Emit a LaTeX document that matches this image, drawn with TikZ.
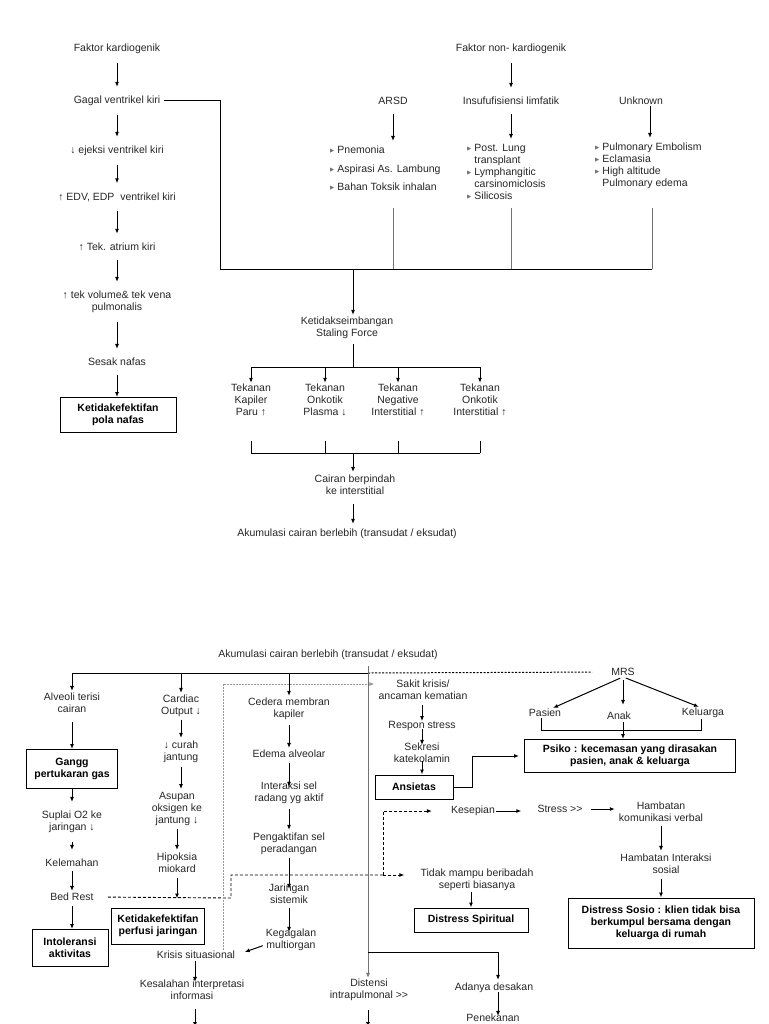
\documentclass[tikz,border=0pt]{standalone}
\usepackage{fontspec}
\setmainfont{Liberation Sans}
\newfontfamily\dejavu{DejaVu Sans}
\usetikzlibrary{arrows.meta,positioning,calc}
\newcommand{\fsz}{\fontsize{10.5}{12}\selectfont}
\newcommand{\bul}{\raisebox{1pt}{\color{black!55}\dejavu\fontsize{5.5}{5.5}\selectfont ▶}}

\begin{document}
\begin{tikzpicture}[x=1pt,y=-1pt,
    lbl/.style={align=center, text=black!85, font=\fsz, inner sep=1pt},
    lst/.style={lbl, anchor=north west, align=left},
    box/.style={draw, line width=1pt, align=center, font=\fsz\bfseries, inner sep=2pt},
    arr/.style={-{Latex[length=5pt,width=4pt]}, line width=1pt, shorten <=8pt, shorten >=8pt},
    ln/.style={line width=1pt},
    gln/.style={line width=1pt, black!55},
    dln/.style={line width=0.9pt, dash pattern=on 3pt off 2pt},
    gdot/.style={line width=0.9pt, black!40, dash pattern=on 1.5pt off 1.5pt}]
    \useasboundingbox (0,0) rectangle (768,1024);

    % Faktor kardiogenik
    \node[lbl] (fk) at (117,49) {Faktor kardiogenik};
    \node[lbl] (gagal) at (117,101) {Gagal ventrikel kiri};
    \node[lbl] (ejeksi) at (117,151) {↓ ejeksi ventrikel kiri};
    \node[lbl] (edv) at (117,197) {↑ EDV, EDP\ \ ventrikel kiri};
    \node[lbl] (atrium) at (117,247) {↑ Tek. atrium kiri};
    \node[lbl] (vena) at (117,302) {↑ tek volume\& tek vena\\pulmonalis};
    \node[lbl] (sesak) at (117,362) {Sesak nafas};
    \node[box, minimum width=116pt, minimum height=35pt] (pola) at (118,415) {Ketidakefektifan\\pola nafas};
    \draw[arr] (fk) -- (gagal);
    \draw[arr] (gagal) -- (ejeksi);
    \draw[arr] (ejeksi) -- (edv);
    \draw[arr] (edv) -- (atrium);
    \draw[arr] (atrium) -- (vena);
    \draw[arr] (vena) -- (sesak);
    \draw[arr, shorten >=0pt] (sesak) -- (sesak |- pola.north);

    % Faktor non-kardiogenik
    \node[lbl] (fnk) at (511,49) {Faktor non- kardiogenik};
    \node[lbl] (arsd) at (393,101) {ARSD};
    \node[lbl] (insuf) at (511,101) {Insufufisiensi limfatik};
    \node[lbl] (unk) at (641,101) {Unknown};
    \node[lst] (lsA) at (329,144) {\begin{tabular}{@{}l@{\hspace{3pt}}l@{}}
        \bul & Pnemonia\\[6.5pt] \bul & Aspirasi As. Lambung\\[6.5pt] \bul & Bahan Toksik inhalan
    \end{tabular}};
    \node[lst] (lsB) at (466,142) {\begin{tabular}{@{}l@{\hspace{3pt}}l@{}}
        \bul & Post. Lung\\ & transplant\\ \bul & Lymphangitic\\ & carsinomiclosis\\ \bul & Silicosis
    \end{tabular}};
    \node[lst] (lsC) at (594,141) {\begin{tabular}{@{}l@{\hspace{3pt}}l@{}}
        \bul & Pulmonary Embolism\\ \bul & Eclamasia\\ \bul & High altitude\\ & Pulmonary edema
    \end{tabular}};
    \draw[arr] (fnk) -- (insuf);
    \draw[arr, shorten >=3pt] (arsd) -- (arsd |- lsA.north);
    \draw[arr, shorten >=3pt] (insuf) -- (insuf |- lsB.north);
    \draw[arr, shorten <=0pt, shorten >=3pt] ([xshift=9pt]unk.south) -- ([xshift=9pt]unk.south |- lsC.north);

    % Pertemuan
    \coordinate (jL) at (220,269);
    \coordinate (jM) at (353,269);
    \coordinate (jR) at (652,269);
    \coordinate (eA) at (393,208);
    \coordinate (eB) at (511,208);
    \coordinate (eC) at (652,208);
    \draw[ln, shorten <=3pt] (gagal.east) -| (jL) -- (jR);
    \draw[gln] (eA) -- (eA |- jL);
    \draw[gln] (eB) -- (eB |- jL);
    \draw[gln] (eC) -- (jR);

    % Staling force
    \node[lbl] (stal) at (347,328) {Ketidakseimbangan\\Staling Force};
    \draw[arr, shorten <=0pt, shorten >=1pt] (jM) -- (jM |- stal.north);
    \coordinate (sf) at (353,367);
    \draw[ln, shorten <=4pt] (jM |- stal.south) -- (sf);
    \node[lbl] (t1) at (251,400) {Tekanan\\Kapiler\\Paru ↑};
    \node[lbl] (t2) at (325,400) {Tekanan\\Onkotik\\Plasma ↓};
    \node[lbl] (t3) at (398,400) {Tekanan\\Negative\\Interstitial ↑};
    \node[lbl] (t4) at (480,400) {Tekanan\\Onkotik\\Interstitial ↑};
    \draw[ln] (t1 |- sf) -- (t4 |- sf);
    \foreach \t in {t1,t2,t3,t4}
        \draw[arr, shorten <=0pt, shorten >=0pt] (\t |- sf) -- (\t.north);
    \coordinate (bj) at (353,453);
    \foreach \t in {t1,t2,t3,t4}
        \draw[ln] (\t.south) ++(0,24) -- (\t |- bj);
    \draw[ln] (t1 |- bj) -- (t4 |- bj);
    \node[lbl] (cair) at (355,485) {Cairan berpindah\\ke interstitial};
    \draw[arr, shorten <=0pt, shorten >=2pt] (bj) -- (bj |- cair.north);
    \node[lbl] (akum1) at (347,534) {Akumulasi cairan berlebih (transudat / eksudat)};
    \draw[arr, shorten >=4pt] (cair.south -| bj) -- (akum1.north -| bj);

    % Bagian bawah
    \node[lbl] (akum2) at (328,655) {Akumulasi cairan berlebih (transudat / eksudat)};
    \node[lbl] (mrs) at (623,672) {MRS};
    \coordinate (hL) at (72,673);
    \coordinate (hM) at (368,673);
    \coordinate (vT) at (368,666);
    \draw[ln] (hL) -- (hM);
    \draw[ln, dash pattern=on 2pt off 1.5pt, shorten >=18pt] (hM) -- (mrs.west);

    % Pernafasan
    \node[lbl] (alv) at (72,703) {Alveoli terisi\\cairan};
    \node[box, minimum width=91pt, minimum height=39pt] (gangg) at (72,769) {Gangg\\pertukaran gas};
    \node[lbl] (suplai) at (72,822) {Suplai O2 ke\\jaringan ↓};
    \node[lbl] (lemah) at (72,863) {Kelemahan};
    \node[lbl] (bed) at (72,897) {Bed Rest};
    \node[box, minimum width=76pt, minimum height=37pt] (intol) at (70,948) {Intoleransi\\aktivitas};
    \draw[arr, shorten <=0pt, shorten >=1pt] (hL) -- (alv.north);
    \draw[arr, shorten >=0pt] (alv) -- (alv |- gangg.north);
    \draw[arr, shorten <=0pt] (gangg.south) -- (suplai);
    \draw[arr] (suplai) -- (lemah);
    \draw[arr, shorten <=3pt, shorten >=1pt] (lemah) -- (bed);
    \draw[arr, shorten <=4pt, shorten >=0pt] (bed) -- (bed |- intol.north);

    % Kardiak
    \node[lbl] (card) at (181,706) {Cardiac\\Output ↓};
    \node[lbl] (curah) at (181,752) {↓ curah\\jantung};
    \node[lbl] (asup) at (177,809) {Asupan\\oksigen ke\\jantung ↓};
    \node[lbl] (hipo) at (177,863) {Hipoksia\\miokard};
    \node[box, minimum width=93pt, minimum height=36pt] (perf) at (158,926) {Ketidakefektifan\\perfusi jaringan};
    \draw[arr, shorten <=0pt, shorten >=1pt] (card |- hL) -- (card.north);
    \draw[arr, shorten <=2pt, shorten >=2pt] (card) -- (curah);
    \draw[arr, shorten <=3pt, shorten >=2pt] (curah) -- (curah |- asup.north);
    \draw[arr, shorten <=2pt, shorten >=2pt] (asup) -- (hipo);
    \draw[arr, shorten <=4pt, shorten >=9pt] (hipo) -- (hipo |- perf.north);

    % Kapiler
    \node[lbl] (ced) at (289,709) {Cedera membran\\kapiler};
    \node[lbl] (edema) at (289,754) {Edema alveolar};
    \node[lbl] (inter) at (289,793) {Interaksi sel\\radang yg aktif};
    \node[lbl] (peng) at (289,844) {Pengaktifan sel\\peradangan};
    \node[lbl] (jar) at (289,894) {Jaringan\\sistemik};
    \node[lbl] (mult) at (291,940) {Kegagalan\\multiorgan};
    \node[lbl] (krisis) at (196,955) {Krisis situasional};
    \node[lbl] (salah) at (192,990) {Kesalahan interpretasi\\informasi};
    \coordinate (sB) at (195,1027);
    \draw[arr, shorten <=0pt, shorten >=1pt] (ced |- hL) -- (ced.north);
    \draw[arr, shorten <=4pt, shorten >=1pt] (ced) -- (edema);
    \draw[arr, shorten <=4pt, shorten >=-6pt] (edema) -- (inter);
    \draw[arr, shorten <=4pt, shorten >=2pt] (inter) -- (peng);
    \draw[arr, shorten <=2pt, shorten >=-6pt] (peng) -- (jar);
    \draw[arr, shorten <=3pt, shorten >=-4pt] (jar) -- (jar |- mult.north);
    \draw[arr, shorten <=2pt, shorten >=9pt] ([yshift=-5pt]mult.west) -- (krisis.east);
    \draw[arr, shorten <=1pt, shorten >=-3pt] (krisis.south -| sB) -- (sB |- salah.north);
    \draw[arr, shorten >=0pt] (salah.south -| sB) -- (sB);

    % Psikososial
    \node[lbl] (sakit) at (423,690) {Sakit krisis/\\ancaman kematian};
    \node[lbl] (respon) at (422,726) {Respon stress};
    \node[lbl] (sekresi) at (422,753) {Sekresi\\katekolamin};
    \node[box, minimum width=78pt, minimum height=24pt] (ansi) at (414,787) {Ansietas};
    \draw[arr, shorten <=4pt, shorten >=-1pt] (sakit.south -| respon) -- (respon);
    \draw[arr, shorten <=-3pt, shorten >=-3pt] (respon) -- (sekresi);
    \draw[arr, shorten <=-3pt, shorten >=0pt] (sekresi) -- (sekresi |- ansi.north);

    \node[lbl] (pas) at (545,713) {Pasien};
    \node[lbl] (anak) at (619,716) {Anak};
    \node[lbl] (kel) at (703,713) {Keluarga};
    \node[box, minimum width=211pt, minimum height=33pt] (psiko) at (630,756) {Psiko : kecemasan yang dirasakan\\pasien, anak \& keluarga};
    \coordinate (bk) at (623,730);
    \draw[arr, shorten <=3pt, shorten >=0pt] (mrs.south) -- ([xshift=8pt]pas.north);
    \draw[arr, shorten <=3pt, shorten >=6pt] (mrs.south) -- (mrs.south |- anak.north);
    \draw[arr, shorten <=3pt, shorten >=0pt] (mrs.south) -- ([xshift=-4pt]kel.north);
    \draw[ln] ([xshift=-4pt]pas.south) -- ([xshift=-4pt]pas.south |- bk) -- ([xshift=-2pt]kel.south |- bk) -- ([xshift=-2pt]kel.south);
    \draw[arr, shorten <=1pt, shorten >=0pt] (anak.south -| bk) -- (bk |- psiko.north);
    \draw[arr, shorten <=0pt, shorten >=5pt] (ansi.east) -- ++(19,0) |- (psiko.west);

    \node[lbl] (sepi) at (473,811) {Kesepian};
    \node[lbl] (stres) at (560,809) {Stress >{}>};
    \node[lbl] (hkv) at (661,812) {Hambatan\\komunikasi verbal};
    \node[lbl] (hint) at (666,864) {Hambatan Interaksi\\sosial};
    \node[box, minimum width=186pt, minimum height=50pt] (sosio) at (661,923) {Distress Sosio : klien tidak bisa\\berkumpul bersama dengan\\keluarga di rumah};
    \draw[arr, shorten <=0pt, shorten >=15pt] (sepi.east) -- (sepi.east -| stres.west);
    \draw[arr, shorten <=7pt, shorten >=3pt] (stres.east) -- (stres.east -| hkv.west);
    \draw[arr, shorten <=3pt, shorten >=2pt] (hkv) -- (hkv |- hint.north);
    \draw[arr, shorten <=4pt, shorten >=0pt] (hint.south -| hkv) -- (hkv |- sosio.north);

    \node[lbl] (tidak) at (477,880) {Tidak mampu beribadah\\seperti biasanya};
    \node[box, minimum width=114pt, minimum height=24pt] (spirit) at (471,920) {Distress Spiritual};
    \draw[arr, shorten <=0pt, shorten >=0pt] (tidak.south -| spirit) -- (spirit.north);

    % Garis putus-putus
    \coordinate (dA) at (231,898);
    \coordinate (dB) at (231,875);
    \coordinate (dC) at (383,875);
    \draw[dln, shorten <=13pt] (bed.east) -- (dA) -- (dB) -- (dC);
    \draw[dln, arr, shorten <=0pt, shorten >=15pt] (dC) -- ([yshift=5pt]tidak.west);
    \draw[dln, arr, shorten <=0pt, shorten >=18pt] (dC) |- (sepi.west);
    \draw[gdot, arr, shorten <=0pt, shorten >=3pt] ([xshift=27pt]krisis.north) |- ([yshift=6pt]sakit.west);

    % Distensi
    \node[lbl] (dist) at (369,990) {Distensi\\intrapulmonal >{}>};
    \node[lbl] (desak) at (494,988) {Adanya desakan};
    \node[lbl] (tekan) at (493,1018) {Penekanan};
    \coordinate (jD) at (368,952);
    \coordinate (dE) at (368,1027);
    \draw[arr, black!55, shorten <=0pt, shorten >=0pt] (vT) -- (vT |- dist.north);
    \draw[arr, shorten <=0pt, shorten >=2pt] (jD) -| ([xshift=4pt]desak.north);
    \draw[arr, shorten <=-2pt, shorten >=-3pt] ([xshift=4pt]desak.south) -- ([xshift=4pt]desak.south |- tekan.north);
    \draw[arr, shorten >=0pt] (dist.south -| dE) -- (dE);
\end{tikzpicture}
\end{document}
